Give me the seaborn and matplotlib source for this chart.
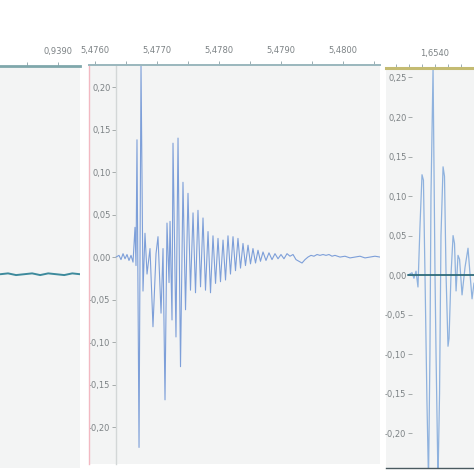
import numpy as np
import seaborn as sns
import matplotlib.pyplot as plt
from matplotlib.ticker import MultipleLocator, FuncFormatter

# left trace: time in ms after 0.9380 s, amplitude
t_left_ms = [0.065, 0.19, 0.32, 0.45, 0.58, 0.71, 0.84, 0.97, 1.10, 1.23, 1.355]
v_left = [0.0, 0.001, -0.001, 0.0, 0.001, -0.001, 0.001, 0.0, -0.001, 0.001, 0.0]

# middle trace: time in ms after 5.4760 s, amplitude
t_mid_ms = [0.339, 0.387, 0.419, 0.452, 0.484, 0.516, 0.548, 0.581, 0.613, 0.645,
            0.661, 0.677, 0.710, 0.742, 0.774, 0.806, 0.839, 0.887, 0.935, 0.984,
            1.016, 1.065, 1.097, 1.129, 1.161, 1.194, 1.210, 1.242, 1.258, 1.306,
            1.339, 1.379, 1.419, 1.460, 1.500, 1.540, 1.581, 1.621, 1.661, 1.702,
            1.742, 1.782, 1.823, 1.863, 1.903, 1.944, 1.984, 2.024, 2.065, 2.105,
            2.145, 2.185, 2.226, 2.266, 2.306, 2.347, 2.387, 2.427, 2.468, 2.508,
            2.548, 2.589, 2.629, 2.669, 2.710, 2.758, 2.806, 2.855, 2.903, 2.952,
            3.000, 3.048, 3.097, 3.145, 3.194, 3.242, 3.290, 3.339, 3.387, 3.435,
            3.484, 3.532, 3.581, 3.629, 3.677, 3.726, 3.774, 3.823, 3.871, 3.952,
            4.032, 4.113, 4.194, 4.274, 4.355, 4.435, 4.516, 4.597]
v_mid = [0.000, 0.002, -0.003, 0.004, -0.002, 0.003, -0.004, 0.002, -0.006, 0.035,
         -0.010, 0.138, -0.224, 0.226, -0.040, 0.028, -0.020, 0.010, -0.082, 0.004,
         0.024, -0.066, 0.010, -0.168, 0.040, -0.030, 0.042, -0.074, 0.134, -0.094,
         0.140, -0.129, 0.088, -0.062, 0.075, -0.039, 0.052, -0.042, 0.055, -0.035,
         0.046, -0.039, 0.030, -0.042, 0.025, -0.031, 0.022, -0.029, 0.020, -0.027,
         0.025, -0.020, 0.024, -0.016, 0.022, -0.013, 0.016, -0.010, 0.014, -0.008,
         0.010, -0.007, 0.008, -0.005, 0.006, -0.004, 0.005, -0.003, 0.004, -0.002,
         0.003, -0.002, 0.004, 0.001, 0.003, -0.003, -0.005, -0.007, -0.003, 0.000,
         0.002, 0.001, 0.003, 0.002, 0.003, 0.002, 0.003, 0.001, 0.002, 0.000,
         0.001, -0.001, 0.000, 0.001, -0.001, 0.000, 0.001, 0.000]

# right trace: time in microseconds relative to 1.6540 s, amplitude
t_right_us = [-20.8, -17.7, -16.2, -14.6, -13.1, -11.6, -10.0, -8.9, -7.7, -6.2,
              -5.0, -3.9, -3.1, -1.5, 0.0, 0.8, 2.3, 3.5, 4.6, 6.2,
              7.3, 8.5, 10.0, 10.8, 12.3, 13.9, 15.0, 16.2, 17.7, 18.9,
              20.8, 23.1, 25.4, 27.0, 28.5, 30.0]
v_right = [0.000, 0.003, -0.004, 0.005, -0.015, 0.060, 0.127, 0.120, 0.000, -0.160,
           -0.260, -0.100, 0.100, 0.262, 0.000, -0.100, -0.260, -0.150, 0.050, 0.137,
           0.125, 0.000, -0.090, -0.080, 0.000, 0.050, 0.040, -0.020, 0.025, 0.020,
           -0.025, 0.010, 0.034, 0.000, -0.030, -0.010]

mid_yticks = [-0.20, -0.15, -0.10, -0.05, 0.00, 0.05, 0.10, 0.15, 0.20]
right_yticks = [-0.20, -0.15, -0.10, -0.05, 0.00, 0.05, 0.10, 0.15, 0.20, 0.25]

sns.set_style("white")
plt.rcParams['font.family'] = ['DejaVu Sans']

BG = '#f3f4f4'
TXT = '#7c8285'
FS = 6
comma = lambda d: FuncFormatter(lambda v, p: f"{v:.{d}f}".replace('.', ','))

fig = plt.figure(figsize=(4.74, 4.74), dpi=100)
W = 474.0

def px_axes(x0, x1, y0, y1):
    # pixel box (from top-left) -> figure axes
    return fig.add_axes([x0 / W, (W - y1) / W, (x1 - x0) / W, (y1 - y0) / W])

def style_top(ax, color, lw, major, minor, dec):
    ax.set_facecolor(BG)
    for s in ['left', 'right', 'bottom']:
        ax.spines[s].set_visible(False)
    ax.spines['top'].set_color(color)
    ax.spines['top'].set_linewidth(lw)
    ax.xaxis.tick_top()
    ax.xaxis.set_major_locator(MultipleLocator(major))
    ax.xaxis.set_minor_locator(MultipleLocator(minor))
    ax.xaxis.set_major_formatter(comma(dec))
    ax.tick_params(axis='x', which='both', top=True, bottom=False, labeltop=True,
                   labelbottom=False, direction='out', length=3, width=0.6,
                   colors='#8aa0a6', labelcolor=TXT, labelsize=FS, pad=4)
    ax.tick_params(axis='y', left=False, labelleft=False)
    ax.set_xlabel('')
    ax.set_ylabel('')

# left panel
ax_l = px_axes(0, 80, 66, 468)
sns.lineplot(x=0.9380 + np.array(t_left_ms) / 1000, y=v_left, ax=ax_l,
             color='#3d8a9c', linewidth=1.4, estimator=None, sort=False)
ax_l.set_xlim(0.93806, 0.939355)
ax_l.set_ylim(-0.228, 0.245)
style_top(ax_l, '#7fa7ab', 2.0, 0.001, 0.0005, 4)

# middle panel
ax_m = px_axes(89, 380, 65, 464)
sns.lineplot(x=5.4760 + np.array(t_mid_ms) / 1000, y=v_mid, ax=ax_m,
             color='#7d9fd9', linewidth=0.8, estimator=None, sort=False)
ax_m.set_xlim(5.475903, 5.480597)
ax_m.set_ylim(-0.2435, 0.226)
style_top(ax_m, '#9ab7bd', 1.4, 0.001, 0.0005, 4)
ax_m.spines['left'].set_visible(True)
ax_m.spines['left'].set_color('#f2b9c2')
ax_m.spines['left'].set_linewidth(1.0)
sec_m = ax_m.secondary_yaxis((116 - 89) / 291.0)
sec_m.set_yticks(mid_yticks)
sec_m.yaxis.set_major_formatter(comma(2))
sec_m.spines['left'].set_color('#d3d7d7')
sec_m.spines['left'].set_linewidth(1.0)
sec_m.tick_params(axis='y', direction='out', length=3, width=0.6, colors='#9aa0a0',
                  labelcolor=TXT, labelsize=FS, pad=1)

# right panel
ax_r = px_axes(386, 474, 68, 468)
sns.lineplot(x=1.6540 + np.array(t_right_us) / 1e6, y=v_right, ax=ax_r,
             color='#8fb2de', linewidth=0.9, estimator=None, sort=False)
ax_r.set_xlim(1.6539623, 1.65403)
ax_r.set_ylim(-0.244, 0.262)
style_top(ax_r, '#c4bb72', 2.2, 0.0001, 0.00001, 4)
ax_r.spines['bottom'].set_visible(True)
ax_r.spines['bottom'].set_color('#4a5a60')
ax_r.spines['bottom'].set_linewidth(1.0)
ax_r.axhline(0, xmin=(408 - 386) / 88.0, xmax=1, color='#2e6b7a', linewidth=1.3)
sec_r = ax_r.secondary_yaxis((412 - 386) / 88.0)
sec_r.set_yticks(right_yticks)
sec_r.yaxis.set_major_formatter(comma(2))
sec_r.spines['left'].set_visible(False)
sec_r.tick_params(axis='y', direction='out', length=3, width=0.6, colors='#9aa0a0',
                  labelcolor=TXT, labelsize=FS, pad=1)

plt.savefig('out.png', dpi=100)
plt.close()
